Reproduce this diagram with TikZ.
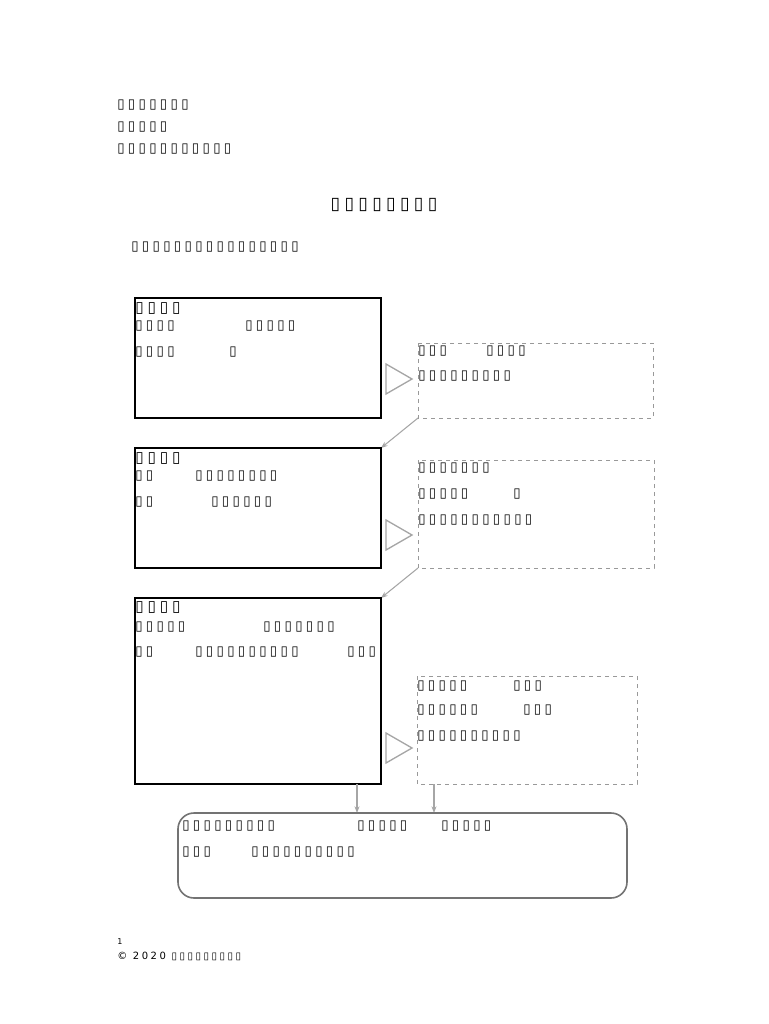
\documentclass[tikz,border=0pt]{standalone}
\usepackage{fontspec}
\setmainfont{DejaVu Sans}[LetterSpace=25]
\usetikzlibrary{arrows.meta}
\begin{document}
\begin{tikzpicture}[x=0.75pt,y=-0.75pt,
 t/.style={anchor=west,inner sep=0pt,font=\fontsize{10}{12}\selectfont},
 h/.style={anchor=west,inner sep=0pt,font=\fontsize{11.5}{13}\selectfont},
 box/.style={draw=black,line width=1.2pt},
 dbox/.style={draw=gray!80,dashed,line width=0.5pt},
 tri/.style={draw=gray!70,line width=1pt},
 ar/.style={draw=gray!70,line width=0.8pt,-{Stealth[length=5pt]}}]
\useasboundingbox (0,0) rectangle (768,1024);
\node[t] (l1) at (117,105) {▯▯▯▯▯▯▯};
\node[t] (l2) at (117,127) {▯▯▯▯▯};
\node[t] (l3) at (117,149) {▯▯▯▯▯▯▯▯▯▯▯};
\node[anchor=center,inner sep=0pt,font=\fontsize{13}{15}\selectfont] (title) at (384,205) {▯▯▯▯▯▯▯▯};
\node[t] (intro) at (131,247) {▯▯▯▯▯▯▯▯▯▯▯▯▯▯▯▯};
% box1
\draw[box] (135,298) rectangle (381,418);
\node[h] at (135,309) {▯▯▯▯};
\node[t] at (135,326) {▯▯▯▯}; \node[t] at (245,326) {▯▯▯▯▯};
\node[t] at (135,352) {▯▯▯▯}; \node[t] at (229,352) {▯};
\draw[dbox] (418,343) rectangle (653,418);
\node[t] at (418,351) {▯▯▯}; \node[t] at (486,351) {▯▯▯▯};
\node[t] at (418,376) {▯▯▯▯▯▯▯▯▯};
\draw[tri] (386,364) -- (412,379) -- (386,394) -- cycle;
\coordinate (d1) at (418,418); \coordinate (b2) at (381,448);
\draw[ar] (d1) -- (b2);
% box2
\draw[box] (135,448) rectangle (381,568);
\node[h] at (135,459) {▯▯▯▯};
\node[t] at (135,476) {▯▯}; \node[t] at (195,476) {▯▯▯▯▯▯▯▯};
\node[t] at (135,502) {▯▯}; \node[t] at (211,502) {▯▯▯▯▯▯};
\draw[dbox] (418,460) rectangle (654,568);
\node[t] at (418,468) {▯▯▯▯▯▯▯};
\node[t] at (418,494) {▯▯▯▯▯}; \node[t] at (513,494) {▯};
\node[t] at (418,520) {▯▯▯▯▯▯▯▯▯▯▯};
\draw[tri] (386,520) -- (412,535) -- (386,550) -- cycle;
\coordinate (d2) at (418,568); \coordinate (b3) at (381,598);
\draw[ar] (d2) -- (b3);
% box3
\draw[box] (135,598) rectangle (381,784);
\node[h] at (135,608) {▯▯▯▯};
\node[t] at (135,627) {▯▯▯▯▯}; \node[t] at (263,627) {▯▯▯▯▯▯▯};
\node[t] at (135,652) {▯▯}; \node[t] at (195,652) {▯▯▯▯▯▯▯▯▯▯}; \node[t] at (347,652) {▯▯▯};
\draw[dbox] (417,676) rectangle (637,784);
\node[t] at (417,686) {▯▯▯▯▯}; \node[t] at (513,686) {▯▯▯};
\node[t] at (417,710) {▯▯▯▯▯▯}; \node[t] at (523,710) {▯▯▯};
\node[t] at (417,736) {▯▯▯▯▯▯▯▯▯▯};
\draw[tri] (386,733) -- (412,748) -- (386,763) -- cycle;
\coordinate (a1) at (357,784); \coordinate (a2) at (357,813);
\coordinate (a3) at (434,784); \coordinate (a4) at (434,813);
\draw[ar] (a1) -- (a2); \draw[ar] (a3) -- (a4);
% bottom
\draw[draw=gray!90!black,line width=1.2pt,rounded corners=12pt] (178,813) rectangle (627,898);
\node[t] at (182,826) {▯▯▯▯▯▯▯▯▯}; \node[t] at (357,826) {▯▯▯▯▯}; \node[t] at (441,826) {▯▯▯▯▯};
\node[t] at (182,852) {▯▯▯}; \node[t] at (251,852) {▯▯▯▯▯▯▯▯▯▯};
\node[anchor=west,inner sep=0pt,font=\fontsize{6}{7}\selectfont] at (117,942) {1};
\node[anchor=west,inner sep=0pt,font=\fontsize{7.5}{9}\selectfont] at (117,956) {© 2020 ▯▯▯▯▯▯▯▯▯};
\end{tikzpicture}
\end{document}
